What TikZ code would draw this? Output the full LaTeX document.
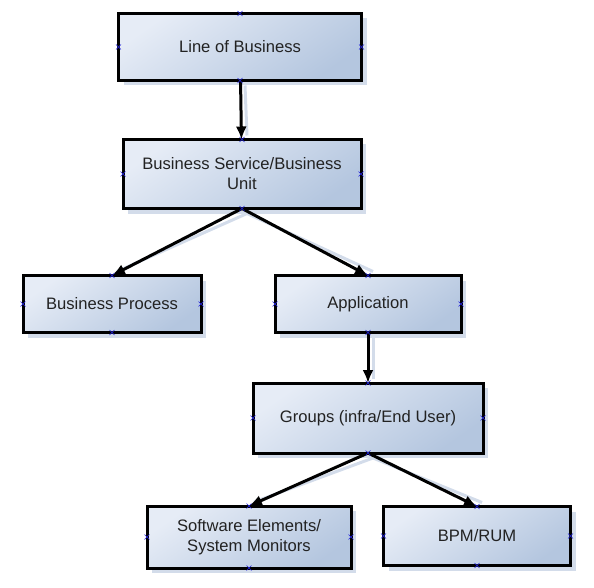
\documentclass[tikz,border=0pt]{standalone}
\usepackage{fontspec}
\setmainfont{Liberation Sans}
\usetikzlibrary{arrows.meta,shadows}
\definecolor{boxlight}{HTML}{E6ECF6}
\definecolor{boxdark}{HTML}{B4C6DF}
\definecolor{shadowblue}{HTML}{D3DCEA}
\definecolor{textgray}{HTML}{222222}
\definecolor{pointblue}{HTML}{2222DD}
\tikzset{
  unit/.style={draw=black, line width=3pt, outer sep=0pt, inner sep=2pt,
    top color=boxlight, bottom color=boxdark, shading angle=35,
    drop shadow={shadow xshift=5pt, shadow yshift=-5pt, fill=shadowblue, opacity=1},
    text=textgray, align=center, font=\fontsize{16.6}{20}\selectfont},
  link/.style={->, line width=3pt},
  linkshadow/.style={line width=3pt, shadowblue},
  cpoint/.style={pointblue, line width=0.6pt}
}
\begin{document}
\begin{tikzpicture}[x=1pt,y=-1pt,>={Latex[length=13pt,width=11pt]}]
  \useasboundingbox (0,0) rectangle (594,588);

  % top levels
  \node[unit, minimum width=243pt, minimum height=67pt] (LoB) at (240,47) {Line of Business};
  \node[unit, minimum width=238pt, minimum height=69pt] (BSU) at (242,174) {Business Service/Business\\Unit};

  % middle level
  \node[unit, minimum width=178pt, minimum height=57pt] (BP) at (112,304) {Business Process};
  \node[unit, minimum width=186pt, minimum height=57pt] (App) at (368,304) {Application};
  \node[unit, minimum width=230pt, minimum height=70pt] (Grp) at (368,418) {Groups (infra/End User)};

  % bottom level
  \node[unit, minimum width=204pt, minimum height=62pt] (SW) at (249,537) {Software Elements/\\System Monitors};
  \node[unit, minimum width=187pt, minimum height=59pt] (BPM) at (477,536) {BPM/RUM};

  % connector shadows
  \foreach \a/\b in {LoB/BSU, BSU/BP, BSU/App, App/Grp, Grp/SW, Grp/BPM}
    \draw[linkshadow] ([shift={(5,5)}]\a.south) -- ([shift={(5,-4)}]\b.north);

  % connectors
  \draw[link] (LoB) -- (BSU);
  \draw[link] (BSU.south) -- (BP.north);
  \draw[link] (BSU.south) -- (App.north);
  \draw[link] (App) -- (Grp);
  \draw[link] (Grp.south) -- (SW.north);
  \draw[link] (Grp.south) -- (BPM.north);

  % connection points
  \foreach \n in {LoB, BSU, BP, App, Grp, SW, BPM}
    \foreach \s in {north, south, east, west}
      \draw[cpoint] (\n.\s) +(-2.5,-2.5) -- +(2.5,2.5) +(-2.5,2.5) -- +(2.5,-2.5);
\end{tikzpicture}
\end{document}
